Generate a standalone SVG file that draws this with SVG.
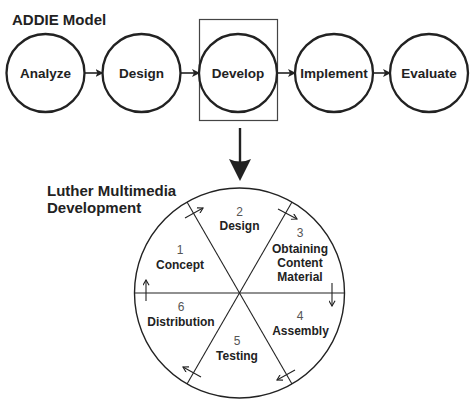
<svg xmlns="http://www.w3.org/2000/svg" width="474" height="418" viewBox="0 0 474 418">
<defs>
<style>
.title{font-family:"Liberation Sans",Arial,sans-serif;font-weight:bold;font-size:15px;fill:#222}
.lbl{font-family:"Liberation Sans",Arial,sans-serif;font-weight:bold;font-size:13.5px;fill:#222;text-anchor:middle}
.seg{font-family:"Liberation Sans",Arial,sans-serif;font-weight:bold;font-size:12px;fill:#222;text-anchor:middle}
.num{font-family:"Liberation Sans",Arial,sans-serif;font-size:12px;fill:#555;text-anchor:middle}
.node{fill:#fff;stroke:#222;stroke-width:2.3}
.conn{stroke:#222;stroke-width:1.6;fill:none}
.thin{stroke:#222;stroke-width:1.1;fill:none}
</style>
<marker id="ah" viewBox="0 0 8 8" refX="7" refY="4" markerWidth="8" markerHeight="8" markerUnits="userSpaceOnUse" orient="auto">
<path d="M0,0 L8,4 L0,8 L2,4 Z" fill="#222"/>
</marker>
<marker id="oh" viewBox="0 0 8 8" refX="7" refY="4" markerWidth="7" markerHeight="7" markerUnits="userSpaceOnUse" orient="auto">
<path d="M1,0.5 L7,4 L1,7.5" fill="none" stroke="#222" stroke-width="1.3"/>
</marker>
</defs>
<rect width="474" height="418" fill="#fff"/>
<text class="title" x="12" y="25">ADDIE Model</text>
<g id="highlight"><rect x="199.5" y="19.5" width="78" height="101" fill="none" stroke="#444" stroke-width="1.2"/></g>
<g id="analyze"><circle class="node" cx="45.5" cy="73" r="39"/><text class="lbl" x="45.5" y="78">Analyze</text></g>
<g id="design"><circle class="node" cx="141.5" cy="73" r="39"/><text class="lbl" x="141.5" y="78">Design</text></g>
<g id="develop"><circle class="node" cx="238" cy="73" r="39"/><text class="lbl" x="238" y="78">Develop</text></g>
<g id="implement"><circle class="node" cx="334" cy="73" r="39"/><text class="lbl" x="334" y="78">Implement</text></g>
<g id="evaluate"><circle class="node" cx="429" cy="73" r="39"/><text class="lbl" x="429" y="78">Evaluate</text></g>
<g id="connectors">
<line class="conn" x1="85" y1="73" x2="102.5" y2="73" marker-end="url(#ah)"/>
<line class="conn" x1="181" y1="73" x2="199" y2="73" marker-end="url(#ah)"/>
<line class="conn" x1="277.5" y1="73" x2="295" y2="73" marker-end="url(#ah)"/>
<line class="conn" x1="373.5" y1="73" x2="390" y2="73" marker-end="url(#ah)"/>
<line x1="240" y1="128" x2="240" y2="162" stroke="#222" stroke-width="2.4"/>
<path d="M229,159 L240,181 L251,159 Q240,164 229,159 Z" fill="#222"/>
</g>
<text class="title" x="47" y="196">Luther Multimedia</text>
<text class="title" x="47" y="213">Development</text>
<g id="luther-cycle">
<circle cx="239.5" cy="293" r="105" fill="none" stroke="#222" stroke-width="1.4"/>
<line class="thin" x1="134.5" y1="293" x2="344.5" y2="293"/>
<line class="thin" x1="187" y1="202" x2="292" y2="384"/>
<line class="thin" x1="292" y1="202" x2="187" y2="384"/>
<line class="thin" x1="185" y1="218" x2="203" y2="208" marker-end="url(#oh)"/>
<line class="thin" x1="278" y1="209" x2="297" y2="219" marker-end="url(#oh)"/>
<line class="thin" x1="332" y1="283" x2="332" y2="306" marker-end="url(#oh)"/>
<line class="thin" x1="295" y1="370" x2="277" y2="380" marker-end="url(#oh)"/>
<line class="thin" x1="201" y1="377" x2="183" y2="367" marker-end="url(#oh)"/>
<line class="thin" x1="146" y1="301" x2="146" y2="280" marker-end="url(#oh)"/>
</g>
<g id="seg1"><text class="num" x="180" y="254">1</text><text class="seg" x="180" y="269">Concept</text></g>
<g id="seg2"><text class="num" x="239.5" y="216">2</text><text class="seg" x="239.5" y="230">Design</text></g>
<g id="seg3"><text class="num" x="300" y="237">3</text><text class="seg" x="300" y="253">Obtaining</text><text class="seg" x="300" y="267">Content</text><text class="seg" x="300" y="281">Material</text></g>
<g id="seg4"><text class="num" x="300" y="320">4</text><text class="seg" x="300.5" y="335">Assembly</text></g>
<g id="seg5"><text class="num" x="237" y="345">5</text><text class="seg" x="237" y="360">Testing</text></g>
<g id="seg6"><text class="num" x="181" y="311">6</text><text class="seg" x="181" y="326">Distribution</text></g>
</svg>
